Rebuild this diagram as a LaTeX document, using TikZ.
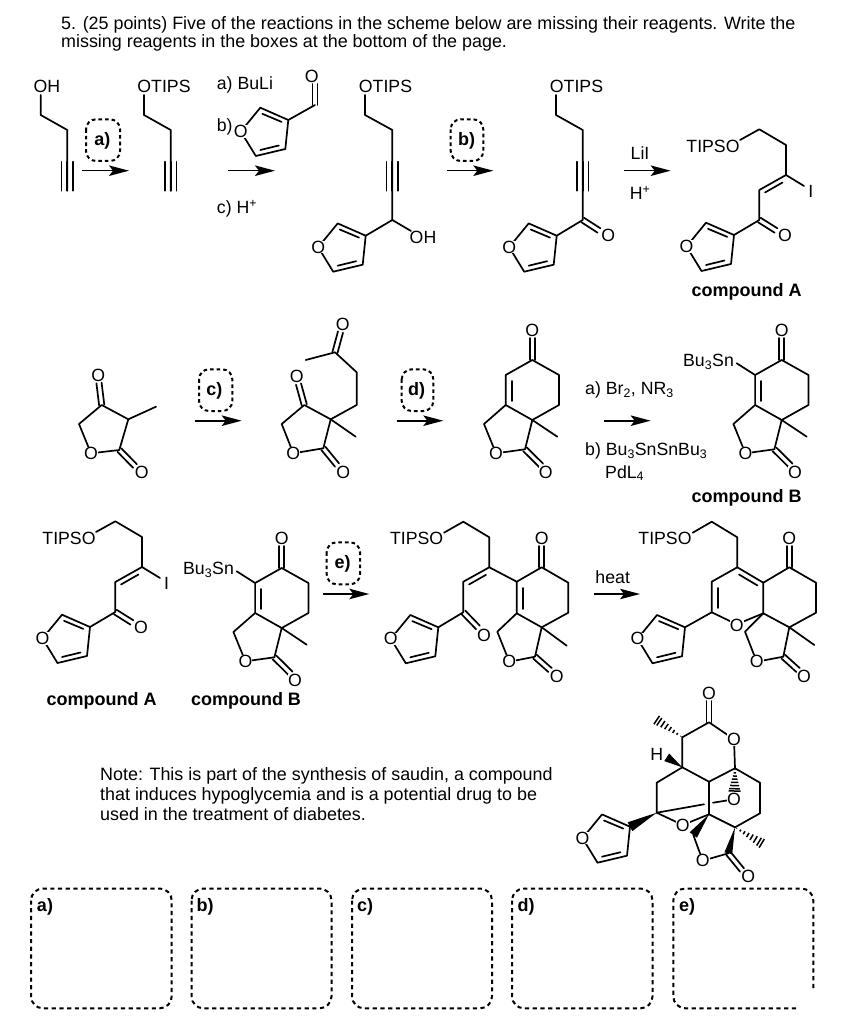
\documentclass[tikz,border=0pt]{standalone}
\usepackage{fontspec}
\setmainfont{Liberation Sans}
\usetikzlibrary{arrows.meta}
\newcounter{nn}
\tikzset{
  bond/.style={line width=1.7pt,line join=round,line cap=round},
  atom/.style={fill=white,inner sep=0pt,font=\fontsize{17.7}{20}\selectfont},
  chem/.style={inner sep=0pt,font=\fontsize{17.7}{20}\selectfont},
  chemw/.style={inner sep=0pt,anchor=west,font=\fontsize{17.7}{20}\selectfont},
  chemb/.style={inner sep=0pt,font=\fontsize{18}{20}\selectfont\bfseries},
  para/.style={inner sep=0pt,anchor=base west,font=\fontsize{17.9}{20}\selectfont},
  rxn/.style={line width=1.6pt,-{Stealth[length=20pt,width=10.5pt,inset=4pt]}},
  ansbox/.style={line width=2pt,dash pattern=on 4.2pt off 3.5pt,rounded corners=12pt},
  mark box/.style={line width=2pt,dash pattern=on 3.6pt off 3pt,rounded corners=10pt}
}
% label: style, position, text
\newcommand{\lab}[3][atom]{\stepcounter{nn}\node[#1] (n\thenn) at (#2) {#3};}
% double bond, symmetric
\newcommand{\dbl}[4]{%
  \pgfmathsetmacro\dbx{#3-#1}\pgfmathsetmacro\dby{#4-#2}%
  \pgfmathsetmacro\dblen{sqrt(\dbx*\dbx+\dby*\dby)}%
  \pgfmathsetmacro\nnx{-2.6*\dby/\dblen}\pgfmathsetmacro\nny{2.6*\dbx/\dblen}%
  \draw[bond] (#1+\nnx,#2+\nny) -- (#3+\nnx,#4+\nny) (#1-\nnx,#2-\nny) -- (#3-\nnx,#4-\nny);}
% triple bond at x between y1,y2
\newcommand{\trip}[3]{\draw[bond] (#1,#2) -- (#1,#3) (#1-5.7,#2) -- (#1-5.7,#3) (#1+5.7,#2) -- (#1+5.7,#3);}
% hashed bond: from narrow (x1,y1) to wide (x2,y2), half-width w
\newcommand{\hashb}[5]{%
  \foreach \t in {0.06,0.2,0.34,0.48,0.62,0.76,0.9,1.0}{%
    \pgfmathsetmacro\mx{#1+\t*(#3-#1)}\pgfmathsetmacro\my{#2+\t*(#4-#2)}%
    \pgfmathsetmacro\lenh{sqrt((#3-#1)*(#3-#1)+(#4-#2)*(#4-#2))}%
    \pgfmathsetmacro\px{-(#4-#2)/\lenh*#5*\t}\pgfmathsetmacro\py{(#3-#1)/\lenh*#5*\t}%
    \draw[line width=1.5pt] (\mx+\px,\my+\py) -- (\mx-\px,\my-\py);}}
% solid wedge: narrow (x1,y1), wide (x2,y2), half-width w
\newcommand{\wedgeb}[5]{%
  \pgfmathsetmacro\lenh{sqrt((#3-#1)*(#3-#1)+(#4-#2)*(#4-#2))}%
  \pgfmathsetmacro\px{-(#4-#2)/\lenh*#5}\pgfmathsetmacro\py{(#3-#1)/\lenh*#5}%
  \fill (#1,#2) -- (#3+\px,#4+\py) -- (#3-\px,#4-\py) -- cycle;}
% furan, origin at ring C3
\newcommand{\furan}[2]{\begin{scope}[shift={(#1,#2)}]
  \draw[bond] (0,0) -- (-28,-12.3) -- (-47.5,11.5) -- (-32.5,36) -- (-3,29) -- cycle;
  \draw[bond] (-26,-6.2) -- (-6.7,1.9) (-28,30) -- (-9.5,25.5);
  \lab{-47.5,11.5}{O}
\end{scope}}
% bicyclic enone, origin at ketone carbon
\newcommand{\scaffold}[2]{\begin{scope}[shift={(#1,#2)}]
  \dbl{0}{0}{0}{-22}
  \draw[bond] (0,0) -- (26.7,15) -- (26.7,45) -- (0,60) -- (25,76.7);
  \draw[bond] (0,0) -- (-26.6,15) -- (-26.6,45) -- (0,60) -- (-7.3,89.3) -- (-36.3,93.3) -- (-48.3,64) -- (-26.6,45);
  \draw[bond] (-20.5,21) -- (-20.5,41);
  \dbl{-7.3}{89.3}{9}{105.5}
  \lab{0,-30}{O}
  \lab{13.4,112.3}{O}
  \lab{-36.3,93.3}{O}
\end{scope}}
% compound A, at shift (dx,dy) from top-row position
\newcommand{\compA}[2]{\begin{scope}[shift={(#1,#2)}]
  \lab[chem]{713,146}{TIPSO}
  \draw[bond] (740,140) -- (759.3,129.3) -- (786,145) -- (786,175) -- (759.3,190) -- (759.3,220) -- (734,235);
  \draw[bond] (786,175) -- (804,186);
  \draw[bond] (782.5,182.5) -- (765,192.5);
  \dbl{759.3}{220}{776}{230.5}
  \lab[chem]{810.7,191}{I}
  \lab{785,235.7}{O}
  \furan{734}{235}
\end{scope}}
\newcommand{\rxnarrow}[3]{\stepcounter{nn}\coordinate (s\thenn) at (#1,#3);\coordinate (e\thenn) at (#2,#3);\draw[rxn] (s\thenn) -- (e\thenn);}
\begin{document}
\begin{tikzpicture}[x=1pt,y=-1pt]
\useasboundingbox (0,0) rectangle (852,1024);
% header
\lab[para]{61,29.3}{5. (25 points) Five of the reactions in the scheme below are missing their reagents. Write the}
\lab[para]{61,47.8}{missing reagents in the boxes at the bottom of the page.}

% ---- row 1
\draw[bond] (40.7,95) -- (40.7,115) -- (67.3,130) -- (67.3,190.7);
\trip{67.3}{161.7}{190.7}
\lab[chem]{47,86}{OH}
\rxnarrow{82.3}{129}{170.7}
\draw[mark box] (86,119.3) rectangle (120,161);
\lab[chemb]{102.3,141}{a)}

\draw[bond] (144,95) -- (144,115) -- (170.7,130) -- (170.7,190.7);
\trip{170.7}{161.7}{190.7}
\lab[chem]{164,86}{OTIPS}

\lab[chemw]{216.7,85}{a) BuLi}
\lab[chemw]{216.7,126.7}{b)}
\lab[chemw]{216.7,209}{c) H\textsuperscript{+}}
\rxnarrow{228.3}{275}{170.7}
\draw[bond] (288.3,120) -- (315,105);
\dbl{315}{105}{315}{84}
\lab{311.7,76}{O}
\furan{288.3}{120}

\draw[bond] (365,95) -- (365,115) -- (392.3,130) -- (392.3,220) -- (365.7,235.7);
\draw[bond] (392.3,220) -- (411,231);
\trip{392.3}{161.7}{190.7}
\lab[chem]{385.5,86}{OTIPS}
\lab[chem]{423,237}{OH}
\furan{365.7}{235.7}

\rxnarrow{446.7}{493.3}{170.7}
\draw[mark box] (450.7,119.3) rectangle (483.3,161);
\lab[chemb]{466.7,141}{b)}

\draw[bond] (556,95) -- (556,115) -- (582.7,130) -- (582.7,220) -- (556.7,235.7);
\trip{582.7}{161.7}{190.7}
\dbl{582.7}{220}{599}{230.5}
\lab[chem]{576.5,86}{OTIPS}
\lab{608.3,235.7}{O}
\furan{556.7}{235.7}

\rxnarrow{624.3}{670.7}{170.7}
\lab[chem]{640,153.5}{LiI}
\lab[chem]{640,193}{H\textsuperscript{+}}

\compA{0}{0}
\lab[chemb]{746.7,292}{compound A}

% ---- row 2
\draw[bond] (79,424) -- (101.7,405) -- (128.3,419.3) -- (119.3,450) -- (91,453.3) -- (79,424);
\draw[bond] (128.3,419.3) -- (156,406.7);
\dbl{101.7}{405}{99}{383}
\dbl{119.3}{450}{135}{466}
\lab{98.3,375}{O}
\lab{141.7,472.3}{O}
\lab{91,453.3}{O}

\rxnarrow{195}{241.7}{420.7}
\draw[mark box] (199,369.3) rectangle (232.3,411);
\lab[chemb]{214.3,391}{c)}

\draw[bond] (281.7,424) -- (304.3,405) -- (330.7,419.3) -- (323.3,448.3) -- (293.3,453.3) -- (281.7,424);
\draw[bond] (330.7,419.3) -- (355.7,436.7);
\draw[bond] (330.7,419.3) -- (356.7,405) -- (356.7,372.3) -- (335,352.3) -- (305.7,360);
\dbl{304.3}{405}{298.5}{384}
\dbl{323.3}{448.3}{337}{465}
\dbl{335}{352.3}{340.5}{332}
\lab{296.7,376}{O}
\lab{343.3,472.3}{O}
\lab{293.3,453.3}{O}
\lab{342.7,324}{O}

\rxnarrow{396.7}{443.3}{420.7}
\draw[mark box] (401.7,369.3) rectangle (433.3,411);
\lab[chemb]{416.7,391}{d)}

\scaffold{532.3}{360}

\lab[chemw]{585,390}{a) Br\textsubscript{2}, NR\textsubscript{3}}
\rxnarrow{604}{650.7}{420.7}
\lab[chemw]{585,451}{b) Bu\textsubscript{3}SnSnBu\textsubscript{3}}
\lab[chemw]{605,473}{PdL\textsubscript{4}}

\scaffold{781.7}{360}
\draw[bond] (736.7,363.3) -- (755.1,375);
\lab[chem]{708.5,362}{Bu\textsubscript{3}Sn}
\lab[chemb]{746.7,497.5}{compound B}

% ---- row 3
\compA{-644}{392}
\lab[chemb]{101.7,701}{compound A}

\scaffold{281.7}{568}
\draw[bond] (236.7,571.3) -- (255.1,583);
\lab[chem]{208.5,570}{Bu\textsubscript{3}Sn}
\lab[chemb]{246,701}{compound B}

\rxnarrow{323.3}{369.3}{594}
\draw[mark box] (326.7,542.3) rectangle (360,584.3);
\lab[chemb]{342.7,563.5}{e)}

% coupled product
\lab[chem]{416.7,538.3}{TIPSO}
\draw[bond] (444,532.7) -- (463.3,521.7) -- (489.3,537.3) -- (489.3,567.3) -- (463.3,581.7) -- (463.3,612.3) -- (438.3,627.3);
\draw[bond] (486,574.8) -- (469,584.5);
\dbl{463.3}{612.3}{478}{627.5}
\draw[bond] (489.3,567.3) -- (516.7,581.7) -- (516.7,613.3) -- (541.7,627.3) -- (566.7,645.7);
\draw[bond] (516.7,581.7) -- (541.7,567.3) -- (568.3,582.7) -- (568.3,612.7) -- (541.7,627.3) -- (535,656.7) -- (509.3,661.7) -- (497.3,631.7) -- (516.7,613.3);
\draw[bond] (522.7,588) -- (522.7,609);
\dbl{541.7}{567.3}{541.7}{546}
\dbl{535}{656.7}{550}{670}
\lab{484,635}{O}
\lab{541.7,538.3}{O}
\lab{509.3,661.7}{O}
\lab{556.7,676.7}{O}
\furan{438.3}{627.3}

\rxnarrow{594}{640}{594}
\lab[chem]{612.7,576.7}{heat}

% pyran product
\lab[chem]{665,538.3}{TIPSO}
\draw[bond] (692.7,532.7) -- (711.7,521.7) -- (737.3,537.3) -- (737.3,567.3) -- (711.7,581.7) -- (711.7,612.3) -- (685,627.3);
\draw[bond] (711.7,612.3) -- (736.7,624.3) -- (763.3,613.3) -- (763.3,582.7) -- (737.3,567.3);
\draw[bond] (718,588) -- (718,608);
\draw[bond] (739,574.5) -- (757.5,585.5);
\draw[bond] (763.3,582.7) -- (789.3,567.3) -- (816,582.7) -- (816,612.7) -- (789.3,627.3) -- (763.3,613.3) -- (745,631.7) -- (756.7,661.7) -- (783.3,656.7) -- (789.3,627.3) -- (814.3,645);
\dbl{789.3}{567.3}{789.3}{546}
\dbl{783.3}{656.7}{798}{670}
\lab{736.7,625}{O}
\lab{789.3,538.3}{O}
\lab{756.7,661.7}{O}
\lab{804,676.7}{O}
\furan{685}{627.3}

% note
\lab[para]{100,780}{Note: This is part of the synthesis of saudin, a compound}
\lab[para]{100,800}{that induces hypoglycemia and is a potential drug to be}
\lab[para]{100,820.6}{used in the treatment of diabetes.}

% saudin
\dbl{709}{722.3}{709}{701}
\draw[bond] (682.3,737.3) -- (709,722.3) -- (734,739.3) -- (735,768.3) -- (760,782.7) -- (760,813.3) -- (735,827.3) -- (709,814.3) -- (709,781.7) -- (735,768.3);
\draw[bond] (682.3,737.3) -- (682.3,767.3) -- (709,781.7);
\draw[bond] (682.3,767.3) -- (656.7,782.7) -- (656.7,812.7) -- (682.7,825) -- (709,814.3);
\draw[bond] (656.7,812.7) -- (704,804.3) (713,802.7) -- (734,799.3);
\draw[bond] (693.3,835) -- (702.7,860.7) -- (728.3,853.3);
\dbl{728.3}{853.3}{742}{870}
\hashb{682.3}{737.3}{656.7}{720}{5}
\wedgeb{682.3}{767.3}{666.7}{757.3}{4.5}
\hashb{735}{768.3}{734.5}{791}{6}
\hashb{735}{827.3}{761.7}{843.3}{5}
\wedgeb{735}{827.3}{728.3}{853.3}{4}
\wedgeb{709}{814.3}{693.3}{835}{4.5}
\wedgeb{656.7}{812.7}{630}{826.7}{5}
\lab{709,693.3}{O}
\lab{734,739.3}{O}
\lab{734,799.3}{O}
\lab{682.7,825}{O}
\lab{702.7,860.7}{O}
\lab{748.3,876.7}{O}
\lab[chem]{656.7,754}{H}
\furan{630}{826.7}

% answer boxes
\draw[ansbox] (31,888.5) rectangle (171.7,1008.3);
\lab[chemb]{45,906.5}{a)}
\draw[ansbox] (191.5,888.5) rectangle (331.5,1008.3);
\lab[chemb]{205,906.5}{b)}
\draw[ansbox] (352,888.5) rectangle (492,1008.3);
\lab[chemb]{365,906.5}{c)}
\draw[ansbox] (512,888.5) rectangle (652.5,1008.3);
\lab[chemb]{526,906.5}{d)}
\stepcounter{nn}\coordinate (ea\thenn) at (813.3,988);\coordinate (eb\thenn) at (797,1008.3);
\draw[ansbox] (ea\thenn) -- (813.3,888.5) -- (673.3,888.5) -- (673.3,1008.3) -- (eb\thenn);
\lab[chemb]{687,906.5}{e)}
\end{tikzpicture}
\end{document}
